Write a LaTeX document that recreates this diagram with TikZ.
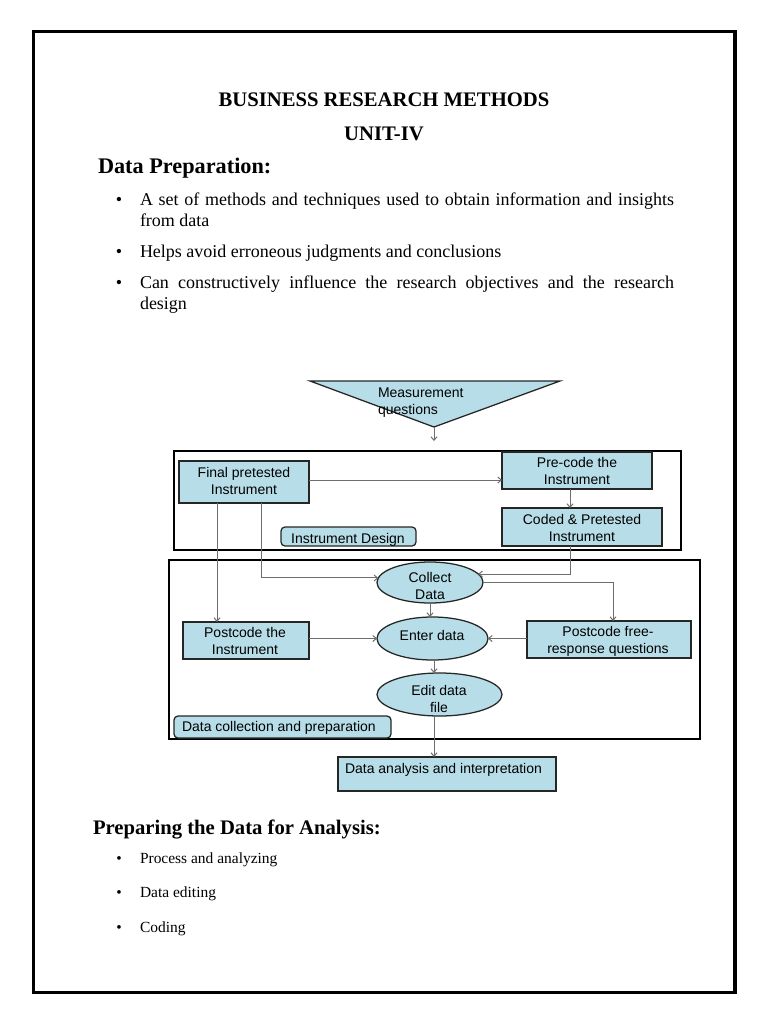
\documentclass[tikz,border=0pt]{standalone}
\usepackage{fontspec}
\setmainfont{Liberation Serif}
\newfontfamily\arialf{Liberation Sans}
\usetikzlibrary{arrows.meta,shapes.geometric}
\definecolor{aqua}{HTML}{B7DEE8}
\definecolor{conncol}{HTML}{6E6E6E}
\definecolor{boxline}{HTML}{262626}
\begin{document}
\begin{tikzpicture}[x=0.75pt,y=-0.75pt,inner sep=0pt,outer sep=0pt,
  bodyf/.style={font=\fontsize{13.5}{15.75}\selectfont},
  smallf/.style={font=\fontsize{11.6}{14}\selectfont},
  diagf/.style={font=\arialf\fontsize{10.5}{12.75}\selectfont},
  box/.style={rectangle,draw=boxline,fill=aqua,line width=0.95pt},
  oval/.style={ellipse,draw=boxline,fill=aqua,line width=0.95pt},
  tag/.style={rectangle,rounded corners=3pt,draw=boxline,fill=aqua,line width=0.95pt},
  region/.style={rectangle,draw=black,line width=1pt},
  conn/.style={draw=conncol,line width=0.75pt,-{Straight Barb[length=2.6pt,width=4.5pt]}},
  plain/.style={draw=conncol,line width=0.75pt}]
\useasboundingbox (0,0) rectangle (768,1024);
\fill[white] (0,0) rectangle (768,1024);
% page border
\draw[line width=2.6pt] (33.5,31.5) rectangle (735,992.5);

% headings
\node[font=\bfseries\fontsize{15.5}{18}\selectfont,anchor=base] (title) at (384,107) {BUSINESS RESEARCH METHODS};
\node[font=\bfseries\fontsize{15.5}{18}\selectfont,anchor=base] (unit) at (384,140) {UNIT-IV};
\node[font=\bfseries\fontsize{16.7}{20}\selectfont,anchor=base west] (dprep) at (98,173) {Data Preparation:};

% bullets top
\node[bodyf,anchor=base] (b1) at (119,205) {\textbullet};
\node[bodyf,anchor=base west] (t1) at (140,205) {\makebox[400.5pt][s]{A set of methods and techniques used to obtain information and insights}};
\node[bodyf,anchor=base west] (t1b) at (140,226) {from data};
\node[bodyf,anchor=base] (b2) at (119,257) {\textbullet};
\node[bodyf,anchor=base west] (t2) at (140,257) {Helps avoid erroneous judgments and conclusions};
\node[bodyf,anchor=base] (b3) at (119,288) {\textbullet};
\node[bodyf,anchor=base west] (t3) at (140,288) {\makebox[400.5pt][s]{Can constructively influence the research objectives and the research}};
\node[bodyf,anchor=base west] (t3b) at (140,309) {design};

% bottom section
\node[font=\bfseries\fontsize{15.5}{18}\selectfont,anchor=base west] (prep) at (93,834) {Preparing the Data for Analysis:};
\node[smallf,anchor=base] (c1) at (119,863) {\textbullet};
\node[smallf,anchor=base west] (s1) at (140,863) {Process and analyzing};
\node[smallf,anchor=base] (c2) at (119,897) {\textbullet};
\node[smallf,anchor=base west] (s2) at (140,897) {Data editing};
\node[smallf,anchor=base] (c3) at (119,932) {\textbullet};
\node[smallf,anchor=base west] (s3) at (140,932) {Coding};

% regions
\node[region,minimum width=380.25pt,minimum height=74.25pt] (ib) at (427.5,500.5) {};
\node[region,minimum width=398.25pt,minimum height=134.25pt] (dcb) at (434.5,649.5) {};

% triangle
\coordinate (tl) at (310,381);
\coordinate (tr) at (560,381);
\coordinate (apex) at (434,427);
\coordinate (apexend) at (434,441);
\filldraw[fill=aqua,draw=boxline,line width=0.95pt,line join=miter] (tl) -- (tr) -- (apex) -- cycle;
\node[diagf,anchor=west,align=left] (trit) at (378,403) {Measurement\\questions};

% boxes
\node[box,minimum width=97.5pt,minimum height=31.5pt] (fin) at (244,482) {};
\node[box,minimum width=112.5pt,minimum height=27.75pt] (pre) at (577,470.5) {};
\node[box,minimum width=120pt,minimum height=28.5pt] (cod) at (582,527) {};
\node[tag,minimum width=101.25pt,minimum height=14.25pt] (idl) at (348.5,536.5) {};
\node[oval,minimum width=79.5pt,minimum height=30.75pt] (col) at (430,582.5) {};
\node[oval,minimum width=83.25pt,minimum height=32.25pt] (ent) at (432.5,638.5) {};
\node[oval,minimum width=93.75pt,minimum height=32.25pt] (edt) at (439.5,694.5) {};
\node[box,minimum width=94.5pt,minimum height=27.75pt] (pci) at (246,640.5) {};
\node[box,minimum width=123pt,minimum height=27.75pt] (pcf) at (609,639.5) {};
\node[tag,minimum width=162.75pt,minimum height=16.5pt] (dcl) at (282.5,727) {};
\node[box,minimum width=163.5pt,minimum height=25.5pt] (dai) at (447,774) {};

% texts
\node[diagf,align=center] (fint) at (244,481) {Final pretested\\Instrument};
\node[diagf,align=center] (pret) at (577,471) {Pre-code the\\Instrument};
\node[diagf,align=center] (codt) at (582,528) {Coded \& Pretested\\Instrument};
\node[diagf] (idlt) at (348,540) {Instrument Design};
\node[diagf,align=center] (colt) at (430,586) {Collect\\Data};
\node[diagf] (entt) at (432,635) {Enter data};
\node[diagf,align=center] (edtt) at (439,699) {Edit data\\file};
\node[diagf,align=center] (pcit) at (245,641) {Postcode the\\Instrument};
\node[diagf,align=center] (pcft) at (608,641) {Postcode free-\\response questions};
\node[diagf,anchor=west] (dclt) at (182,728) {Data collection and preparation};
\node[diagf,anchor=west] (dait) at (345,770) {Data analysis and interpretation};

% helper x positions
\coordinate (x217) at (217,0);
\coordinate (x261) at (261,0);
\coordinate (x570) at (570,0);
\coordinate (x613) at (613,0);
\coordinate (x434) at (434,0);
\coordinate (y480) at (0,480);

% connectors
\draw[conn] (apex) -- (apexend);
\draw[conn] (fin.east |- y480) -- (pre.west |- y480);
\draw[conn] (pre.south -| x570) -- (cod.north -| x570);
\draw[conn] (fin.south -| x217) -- (pci.north -| x217);
\draw[conn] (fin.south -| x261) |- (col.175);
\draw[conn] (cod.south -| x570) |- (col.10);
\draw[conn] (col.east) -| (pcf.north -| x613);
\draw[conn] (col.south) -- (col.south |- ent.north);
\draw[conn] (pci.east |- ent.west) -- (ent.west);
\draw[conn] (pcf.west |- ent.east) -- (ent.east);
\draw[conn] (ent.south -| x434) -- (edt.north -| x434);
\draw[conn] (edt.south -| x434) -- (dai.north -| x434);
\end{tikzpicture}
\end{document}
